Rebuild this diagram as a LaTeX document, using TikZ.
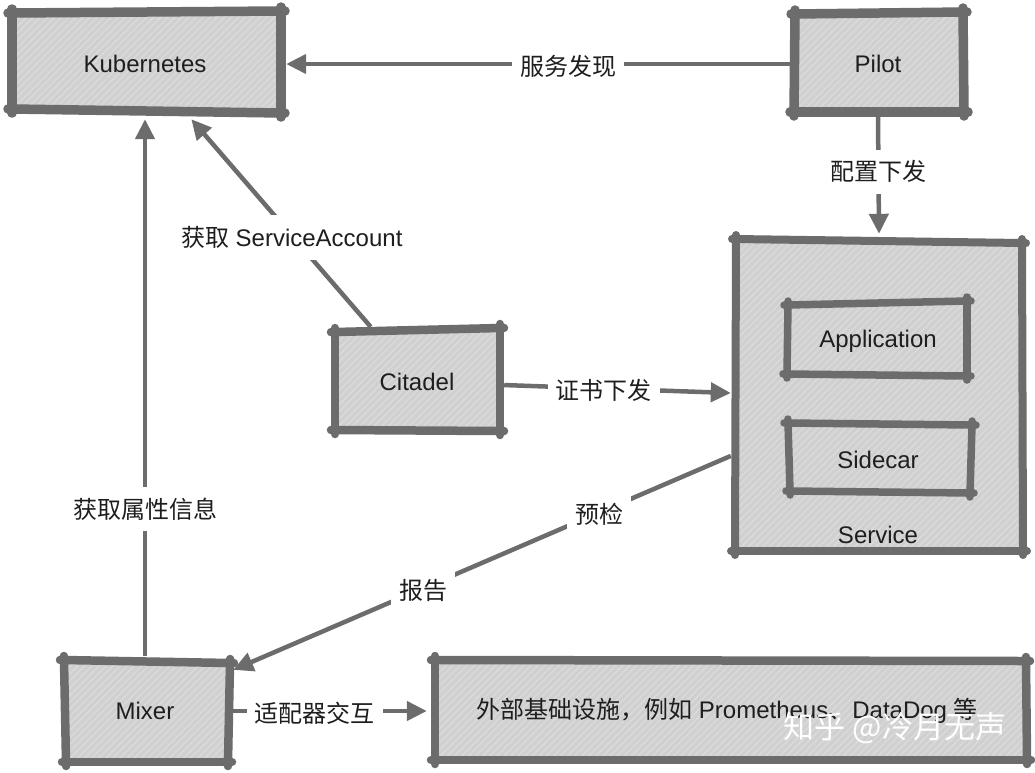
\documentclass[tikz,border=0pt]{standalone}
\usepackage{fontspec}
\setmainfont{Liberation Sans}
\newfontfamily\cjk{Noto Sans CJK SC}
\usepackage{xcolor}
\usetikzlibrary{arrows.meta, patterns.meta}
\definecolor{boxfill}{RGB}{208,208,208}
\definecolor{boxhatch}{RGB}{220,220,220}
\definecolor{edgegray}{RGB}{108,108,108}
\definecolor{textdark}{RGB}{30,30,30}
\tikzset{
    sketchfill/.style={
        preaction={fill=boxfill},
        pattern={Lines[angle=45, distance=5pt, line width=1.2pt]},
        pattern color=boxhatch
    },
    sketchedge/.style={
        draw=edgegray,
        line width=#1,
        line cap=round,
        shorten >=-4pt,
        shorten <=-4pt
    },
    boxtext/.style={
        rectangle,
        inner sep=0pt,
        text=textdark,
        font=\fontsize{24}{28}\selectfont
    },
    connection/.style={
        draw=edgegray,
        line width=4.5pt,
        -{Triangle[length=20pt, width=19pt]}
    },
    edgelabel/.style={
        fill=white,
        inner xsep=8pt,
        inner ysep=11pt,
        yshift=-2pt,
        text=textdark,
        font=\fontsize{24}{28}\selectfont
    }
}
% corners clockwise from top left, then the edge width
\newcommand{\sketchbox}[5]{
    \path[sketchfill] #1 -- #2 -- #3 -- #4 -- cycle;
    \draw[sketchedge=#5] #1 -- #2;
    \draw[sketchedge=#5] #2 -- #3;
    \draw[sketchedge=#5] #3 -- #4;
    \draw[sketchedge=#5] #4 -- #1;
}
\begin{document}
\begin{tikzpicture}[x=1pt, y=-1pt]
\useasboundingbox (0,0) rectangle (1035,772);

% Boxes
\sketchbox{(12,13)}{(281,11)}{(281,113)}{(12,109)}{9.5pt}
\sketchbox{(795,14)}{(963,12)}{(964,112)}{(794,112)}{9.5pt}
\sketchbox{(335,332)}{(500,328)}{(500,431)}{(335,430)}{8.5pt}
\sketchbox{(736,239)}{(1022,243)}{(1023,551)}{(735,551)}{8pt}
\sketchbox{(788,305)}{(967,301)}{(967,376)}{(787,374)}{7.5pt}
\sketchbox{(788,423)}{(972,425)}{(970,493)}{(790,491)}{7.5pt}
\sketchbox{(64,660)}{(230,663)}{(228,762)}{(66,762)}{8.5pt}
\sketchbox{(435,660)}{(1026,661)}{(1027,760)}{(435,760)}{8.5pt}

% Box texts
\node[boxtext, minimum width=282pt, minimum height=110pt] (kube) at (145,64) {Kubernetes};
\node[boxtext, minimum width=176pt, minimum height=106pt] (pilot) at (878,64) {Pilot};
\node[boxtext, minimum width=174pt, minimum height=110pt] (citadel) at (417,382) {Citadel};
\node[boxtext, minimum width=296pt, minimum height=318pt] (service) at (879,393) {};
\node[boxtext] (app) at (878,341) {Application};
\node[boxtext] (sidecar) at (878,460) {Sidecar};
\node[boxtext] (servicetext) at (878,535) {Service};
\node[boxtext, minimum width=176pt, minimum height=110pt] (mixer) at (145,711) {Mixer};
\node[boxtext, minimum width=600pt, minimum height=110pt] (infra) at (727,711) {{\cjk 外部基础设施，例如} Prometheus{\cjk 、}DataDog {\cjk 等}};

% Connectors
\draw[connection] (pilot.west) -- node[edgelabel, pos=0.44] (discovery) {\cjk 服务发现} (kube.east);
\draw[connection] (pilot.south) -- node[edgelabel, pos=0.45] (config) {\cjk 配置下发} (service.north);
\draw[connection] (citadel.130) -- node[edgelabel, pos=0.44] (account) {{\cjk 获取} ServiceAccount} (kube.-50.6);
\draw[connection] (citadel.-2.6) -- node[edgelabel, pos=0.44] (cert) {\cjk 证书下发} (service.west);
\draw[connection] (service.203.9) -- node[edgelabel, pos=0.264] (precheck) {\cjk 预检} node[edgelabel, pos=0.618] (report) {\cjk 报告} (mixer.25.5);
\draw[connection] (mixer.north) -- node[edgelabel, pos=0.277] (attrs) {\cjk 获取属性信息} (kube.south);
\draw[connection] (mixer.east) -- node[edgelabel, pos=0.42] (adapter) {\cjk 适配器交互} (infra.west);

% Watermark
\node[text=white, font=\fontsize{31}{34}\selectfont\cjk] (mark) at (895,728) {知乎 @冷月无声};

\end{tikzpicture}
\end{document}
